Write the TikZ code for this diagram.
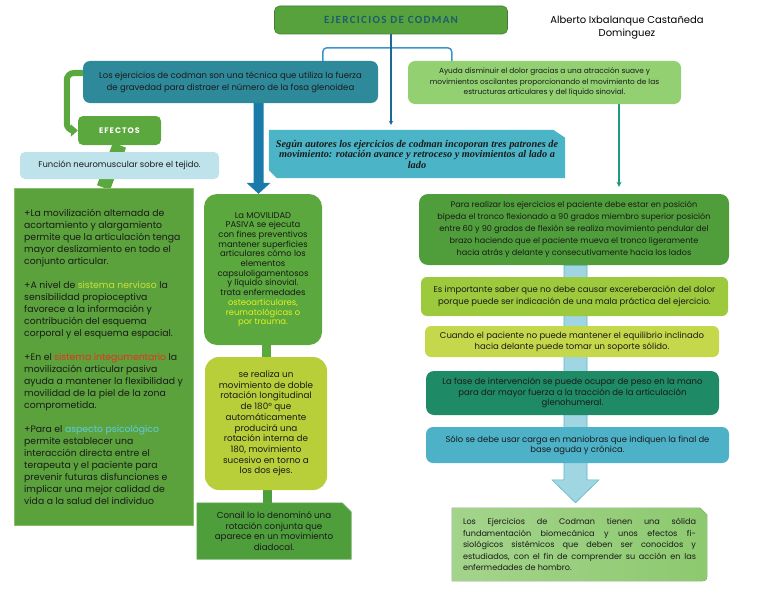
\documentclass[tikz,border=0pt]{standalone}
\usepackage{fontspec}
\setmainfont{Poppins}
\newfontfamily\titlefont{Carlito}[LetterSpace=12]
\newfontfamily\effont{Poppins}[LetterSpace=12]
\newfontfamily\segfont{Liberation Serif}
\usetikzlibrary{arrows.meta,backgrounds,calc}
\definecolor{cTitle}{HTML}{58A23E}
\definecolor{cTitleB}{HTML}{3F8030}
\definecolor{cTitleT}{HTML}{1D5C6B}
\definecolor{cGreen}{HTML}{5BA83E}
\definecolor{cBig}{HTML}{5BA23D}
\definecolor{cBigB}{HTML}{86BE6C}
\definecolor{cTeal}{HTML}{2E8A9A}
\definecolor{cAyuda}{HTML}{92D072}
\definecolor{cSegun}{HTML}{4BB5C7}
\definecolor{cFunc}{HTML}{BFE3EA}
\definecolor{cYBox}{HTML}{B8CF3A}
\definecolor{cConail}{HTML}{4E9E3C}
\definecolor{cPara}{HTML}{509E3B}
\definecolor{cEsimp}{HTML}{9DC93D}
\definecolor{cCuando}{HTML}{C5D84B}
\definecolor{cFase}{HTML}{1F8A66}
\definecolor{cSolo}{HTML}{4DB1C8}
\definecolor{cFinal}{HTML}{8DC96F}
\definecolor{cBlue}{HTML}{1A7AAA}
\definecolor{cDark}{HTML}{1A6A95}
\definecolor{cLBlue}{HTML}{3B96C6}
\definecolor{cTealG}{HTML}{1B9A80}
\definecolor{cBar}{HTML}{A0D6E2}
\definecolor{cBarB}{HTML}{5DB5C5}
\definecolor{cNerv}{HTML}{C8E03C}
\definecolor{cInteg}{HTML}{E8321E}
\definecolor{cPsi}{HTML}{5CCBE6}
\definecolor{cYel}{HTML}{E4F21C}
\definecolor{cText}{HTML}{1A1A1A}
\tikzset{
  box/.style={rectangle, rounded corners=6pt, align=center, inner sep=2pt, text=cText},
  plain/.style={rectangle, align=center, inner sep=2pt, text=cText},
}
\begin{document}
\begin{tikzpicture}[x=1pt,y=-1pt]
\useasboundingbox (0,0) rectangle (768,594);

% ---------- nodes ----------
\node[box, fill=cTitle, draw=cTitleB, line width=0.6pt, rounded corners=5pt,
  minimum width=233pt, minimum height=28pt, text=cTitleT,
  font=\titlefont\bfseries\fontsize{11}{13}\selectfont] (title) at (391,20) {EJERCICIOS DE CODMAN};

\node[plain, text=black, font=\fontsize{10}{13}\selectfont] (author) at (627,28)
  {Alberto Ixbalanque Castañeda\\Dominguez};

\node[box, fill=cTeal, minimum width=295pt, minimum height=42pt, rounded corners=7pt,
  font=\fontsize{8.5}{12}\selectfont] (lefttop) at (230.5,82)
  {Los ejercicios de codman son una técnica que utiliza la fuerza\\de gravedad para distraer el número de la fosa glenoidea};

\node[box, fill=cAyuda, minimum width=273pt, minimum height=43pt, rounded corners=7pt,
  font=\fontsize{7.4}{10.5}\selectfont] (ayuda) at (544.5,82.5)
  {Ayuda disminuir el dolor gracias a una atracción suave y\\movimientos oscilantes proporcionando el movimiento de las\\estructuras articulares y del líquido sinovial.};

\node[plain, minimum width=296pt, minimum height=48pt,
  font=\segfont\bfseries\itshape\fontsize{10.3}{10.5}\selectfont] (segun) at (417,154)
  {Según autores los ejercicios de codman incoporan tres patrones de\\movimiento: rotación avance y retroceso y movimientos al lado a\\lado};

\node[box, fill=cGreen, minimum width=83pt, minimum height=29pt, rounded corners=5pt, text=white,
  font=\effont\bfseries\fontsize{8}{9}\selectfont] (efectos) at (119.5,130.5) {EFECTOS};

\node[box, fill=cFunc, minimum width=199pt, minimum height=27pt, rounded corners=5pt,
  font=\fontsize{8.4}{10}\selectfont] (funcion) at (119.5,165.5) {Función neuromuscular sobre el tejido.};

\node[plain, align=left, fill=cBig, draw=cBigB, line width=0.8pt, minimum width=179pt, minimum height=337pt,
  font=\fontsize{9.3}{12}\selectfont] (bigbox) at (103.5,356.5)
  {+La movilización alternada de\\acortamiento y alargamiento\\permite que la articulación tenga\\mayor deslizamiento en todo el\\conjunto articular.\\[12pt]
   +A nivel de \textcolor{cNerv}{sistema nervioso} la\\sensibilidad propioceptiva\\favorece a la información y\\contribución del esquema\\corporal y el esquema espacial.\\[12pt]
   +En el \textcolor{cInteg}{sistema integumentario} la\\movilización articular pasiva\\ayuda a mantener la flexibilidad y\\movilidad de la piel de la zona\\comprometida.\\[12pt]
   +Para el \textcolor{cPsi}{aspecto psicológico}\\permite establecer una\\interacción directa entre el\\terapeuta y el paciente para\\prevenir futuras disfunciones e\\implicar una mejor calidad de\\vida a la salud del individuo};

\node[box, fill=cGreen, minimum width=118pt, minimum height=151pt, rounded corners=13pt,
  font=\fontsize{8.4}{9.7}\selectfont] (movil) at (263,269.5)
  {La MOVILIDAD\\PASIVA se ejecuta\\con fines preventivos\\mantener superficies\\articulares cómo los\\elementos\\capsuloligamentosos\\y líquido sinovial.\\trata enfermedades\\\textcolor{cYel}{osteoarticulares,}\\\textcolor{cYel}{reumatológicas o}\\\textcolor{cYel}{por trauma.}};

\node[box, fill=cYBox, minimum width=122pt, minimum height=133pt, rounded corners=14pt,
  font=\fontsize{8.8}{10.7}\selectfont] (ybox) at (266,423.5)
  {se realiza un\\movimiento de doble\\rotación longitudinal\\de 180° que\\automáticamente\\producirá una\\rotación interna de\\180, movimiento\\sucesivo en torno a\\los dos ejes.};

\node[plain, minimum width=154pt, minimum height=56pt,
  font=\fontsize{8.7}{10.5}\selectfont] (conail) at (274,531)
  {Conail lo lo denominó una\\rotación conjunta que\\aparece en un movimiento\\diadocal.};

\node[box, fill=cPara, minimum width=310pt, minimum height=71pt, rounded corners=9pt,
  font=\fontsize{8.1}{12}\selectfont] (para) at (574,229.5)
  {Para realizar los ejercicios el paciente debe estar en posición\\bípeda el tronco flexionado a 90 grados miembro superior posición\\entre 60 y 90 grados de flexión se realiza movimiento pendular del\\brazo haciendo que el paciente mueva el tronco ligeramente\\hacia atrás y delante y consecutivamente hacia los lados};

\node[box, fill=cEsimp, minimum width=307pt, minimum height=39pt,
  font=\fontsize{8.5}{12}\selectfont] (esimp) at (574.5,296.5)
  {Es importante saber que no debe causar excereberación del dolor\\porque puede ser indicación de una mala práctica del ejercicio.};

\node[box, fill=cCuando, minimum width=294pt, minimum height=31pt,
  font=\fontsize{8.5}{11}\selectfont] (cuando) at (572,341.5)
  {Cuando el paciente no puede mantener el equilibrio inclinado\\hacia delante puede tomar un soporte sólido.};

\node[box, fill=cFase, minimum width=293pt, minimum height=44pt, rounded corners=8pt,
  font=\fontsize{8.5}{10.5}\selectfont] (fase) at (572.5,393)
  {La fase de intervención se puede ocupar de peso en la mano\\para dar mayor fuerza a la tracción de la articulación\\glenohumeral.};

\node[box, fill=cSolo, minimum width=303pt, minimum height=36pt, rounded corners=7pt,
  font=\fontsize{8.4}{10}\selectfont] (solo) at (577.5,445)
  {Sólo se debe usar carga en maniobras que indiquen la final de\\base aguda y crónica.};

\node[plain, align=left, minimum width=255pt, minimum height=73pt,
  font=\fontsize{8.1}{11.5}\selectfont] (final) at (579.5,544.5)
  {\makebox[233pt][s]{Los Ejercicios de Codman tienen una sólida}\\
   \makebox[233pt][s]{fundamentación biomecánica y unos efectos fi-}\\
   \makebox[233pt][s]{siológicos sistémicos que deben ser conocidos y}\\
   \makebox[233pt][s]{estudiados, con el fin de comprender su acción en las}\\
   enfermedades de hombro.};

% ---------- background shapes and connectors ----------
\begin{scope}[on background layer]
  % chamfered boxes
  \fill[cSegun] (segun.north west) -- ([xshift=-12pt]segun.north east) -- ([yshift=-8pt]segun.north east)
     -- (segun.south east) -- ([xshift=8pt]segun.south west) -- ([yshift=8pt]segun.south west) -- cycle;
  \fill[cConail] (conail.north west) -- ([xshift=-9pt]conail.north east) -- ([yshift=-9pt]conail.north east)
     -- (conail.south east) -- (conail.south west) -- cycle;
  \draw[cConail!80!white, line width=0.6pt] (conail.north west) -- ([xshift=-9pt]conail.north east) -- ([yshift=-9pt]conail.north east)
     -- (conail.south east) -- (conail.south west) -- cycle;
  \fill[left color=cFinal!80!white, right color=cFinal] (final.north west) -- ([xshift=-7pt]final.north east) -- ([yshift=-7pt]final.north east)
     -- ([yshift=10pt]final.south east) .. controls (final.south east) .. ([xshift=-10pt]final.south east)
     -- (final.south west) -- cycle;

  % title connectors
  \draw[cLBlue, line width=1.5pt, rounded corners=4pt]
     ([xshift=240pt]lefttop.north west) -- ++(0,-13) -| ([xshift=44pt]ayuda.north west);
  \draw[cDark, line width=1.8pt, -{Stealth[length=4pt,width=4.5pt]}]
     (title.south) -- ([yshift=5pt]title.south |- segun.north);

  % blue block arrow
  \coordinate (ba) at ([xshift=28pt]lefttop.south);
  \coordinate (bb) at ([xshift=28pt]lefttop.south |- movil.north);
  \fill[cBlue] ($(ba)+(-5,0)$) -- ($(bb)+(-5,-11)$) -- ($(bb)+(-12,-11)$) -- (bb)
     -- ($(bb)+(12,-11)$) -- ($(bb)+(5,-11)$) -- ($(ba)+(5,0)$) -- cycle;

  % green elbow to EFECTOS
  \draw[cGreen, line width=6pt, rounded corners=7pt, -{Triangle[length=7pt,width=12pt]}]
     ([xshift=6pt,yshift=9pt]lefttop.west) -| ([xshift=-11pt]efectos.west) -- (efectos.west);
  % green bar EFECTOS -> big box
  \draw[cGreen, line width=14pt] (efectos.south) -- (bigbox.north);

  % bars in middle column
  \draw[cGreen, line width=9pt] ([xshift=3pt]movil.south) -- ([xshift=3pt]movil.south |- ybox.north);
  \draw[cConail, line width=9pt] ([xshift=1pt]ybox.south) -- ([xshift=1pt]ybox.south |- conail.north);

  % ayuda arrow
  \draw[cTealG, line width=1.2pt, -{Stealth[length=5pt,width=5pt]}, shorten >=7pt]
     ([xshift=74.5pt]ayuda.south) -- ([xshift=74.5pt]ayuda.south |- para.north);

  % right big light-blue arrow
  \coordinate (ra) at ([xshift=1.5pt]para.south);
  \coordinate (rb) at (ra |- final.north);
  \filldraw[fill=cBar, draw=cBarB, line width=0.6pt]
     ($(ra)+(-11.5,0)$) -- ($(rb)+(-11.5,-28)$) -- ($(rb)+(-23.5,-28)$) -- ($(rb)+(0,-5)$)
     -- ($(rb)+(23.5,-28)$) -- ($(rb)+(11.5,-28)$) -- ($(ra)+(11.5,0)$) -- cycle;
\end{scope}
\end{tikzpicture}
\end{document}
